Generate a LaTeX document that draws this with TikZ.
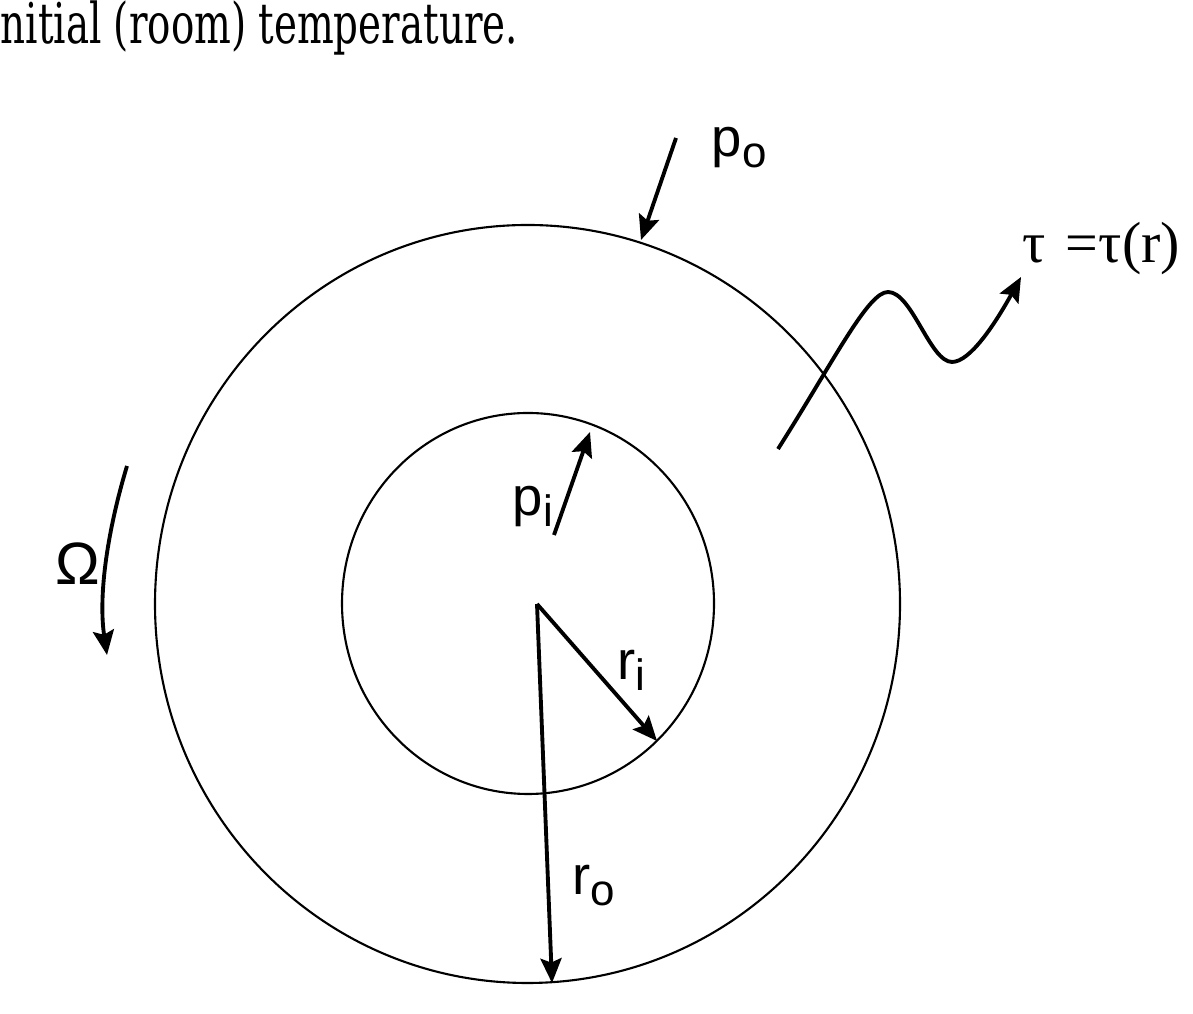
\documentclass[tikz,border=0pt]{standalone}
\usepackage{fontspec}
\setmainfont{Liberation Serif}
\newfontfamily\labelfont{Liberation Sans}
\newfontfamily\titlefont[FakeStretch=0.69]{DejaVu Serif}
\usetikzlibrary{arrows.meta}

\newcommand{\lowsub}[1]{\raisebox{-0.2em}{\fontsize{12.5}{14}\selectfont #1}}

\tikzset{
  ring/.style={line width=0.6pt},
  load/.style={line width=1.1pt, -{Stealth[length=7pt,width=6pt,inset=1.2pt]}},
  lbl/.style={inner sep=0pt, anchor=base west, font=\labelfont\fontsize{15.5}{18}\selectfont}
}

\begin{document}
\begin{tikzpicture}
  \useasboundingbox (0cm,0cm) rectangle (11.93cm,10.14cm);
  \node[inner sep=0pt, anchor=base west, font=\titlefont\fontsize{16}{19}\selectfont] (title) at (0cm,9.70cm) {nitial (room) temperature.};

  % the two circles
  \draw[ring] (5.275cm,4.10cm) ellipse (3.725cm and 3.79cm);
  \draw[ring] (5.28cm,4.105cm) ellipse (1.86cm and 1.905cm);

  % radii
  \coordinate (ctr) at (5.37cm,4.10cm);
  \coordinate (ri) at (6.57cm,2.73cm);
  \coordinate (ro) at (5.52cm,0.31cm);
  \draw[load] (ctr) -- (ri);
  \draw[load] (ctr) -- (ro);
  \node[lbl] (rilbl) at (6.17cm,3.34cm) {r\lowsub{i}};
  \node[lbl] (rolbl) at (5.72cm,1.19cm) {r\lowsub{o}};

  % pressures
  \coordinate (pistart) at (5.54cm,4.79cm);
  \coordinate (piend) at (5.90cm,5.82cm);
  \draw[load] (pistart) -- (piend);
  \node[lbl] (pilbl) at (5.12cm,4.98cm) {p\lowsub{i}};
  \coordinate (postart) at (6.76cm,8.76cm);
  \coordinate (poend) at (6.41cm,7.74cm);
  \draw[load] (postart) -- (poend);
  \node[lbl] (polbl) at (7.11cm,8.57cm) {p\lowsub{o}};

  % rotation
  \coordinate (omstart) at (1.27cm,5.48cm);
  \coordinate (omend) at (1.07cm,3.59cm);
  \draw[load] (omstart) .. controls (1.08cm,4.85cm) and (0.98cm,4.20cm) .. (omend);
  \node[lbl, font=\labelfont\fontsize{17}{20}\selectfont] (omlbl) at (0.55cm,4.29cm) {Ω};

  % shear
  \coordinate (wvstart) at (7.78cm,5.65cm);
  \coordinate (wvtop) at (8.88cm,7.22cm);
  \coordinate (wvlow) at (9.52cm,6.52cm);
  \coordinate (wvend) at (10.21cm,7.37cm);
  \draw[load] (wvstart) .. controls (8.35cm,6.55cm) and (8.68cm,7.22cm) .. (wvtop)
    .. controls (9.12cm,7.22cm) and (9.30cm,6.52cm) .. (wvlow)
    .. controls (9.70cm,6.52cm) and (9.95cm,6.90cm) .. (wvend);
  \node[inner sep=0pt, anchor=base west, font=\fontsize{16.5}{20}\selectfont] (taulbl) at (10.22cm,7.51cm) {τ\hspace{0.2cm}=τ(r)};
\end{tikzpicture}
\end{document}
